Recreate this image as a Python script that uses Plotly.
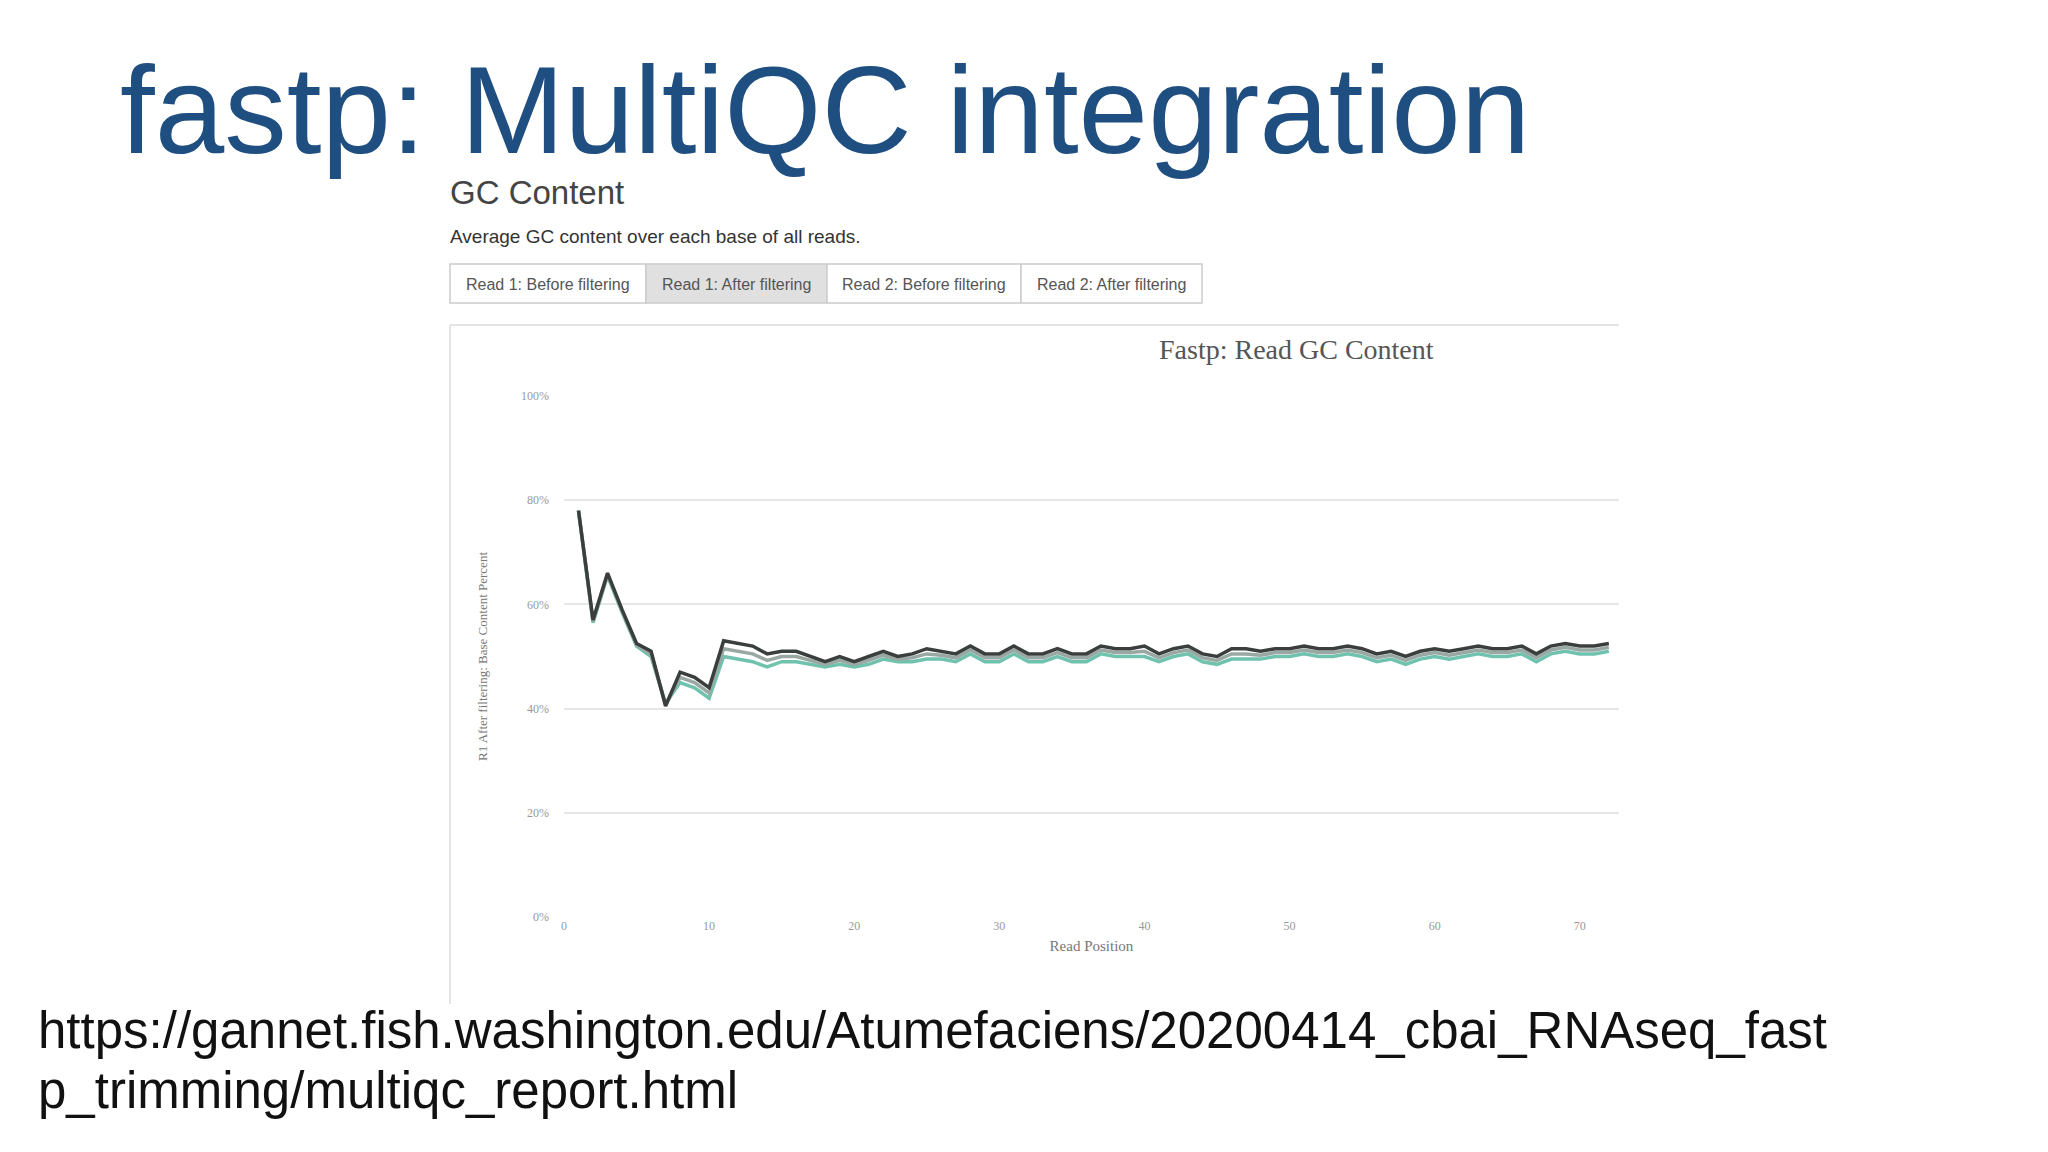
import plotly.graph_objects as go

positions = list(range(1, 73))
dark = [78, 57, 66, 59, 52.5, 51, 40.5, 47, 46, 44, 53, 52.5, 52, 50.5, 51, 51, 50, 49, 50, 49,
        50, 51, 50, 50.5, 51.5, 51, 50.5, 52, 50.5, 50.5, 52, 50.5, 50.5, 51.5, 50.5, 50.5, 52, 51.5, 51.5, 52,
        50.5, 51.5, 52, 50.5, 50, 51.5, 51.5, 51, 51.5, 51.5, 52, 51.5, 51.5, 52, 51.5, 50.5, 51, 50, 51, 51.5,
        51, 51.5, 52, 51.5, 51.5, 52, 50.5, 52, 52.5, 52, 52, 52.5]
teal = [78, 56.5, 65.5, 58.5, 52, 50, 41, 45, 44, 42, 50, 49.5, 49, 48, 49, 49, 48.5, 48, 48.5, 48,
        48.5, 49.5, 49, 49, 49.5, 49.5, 49, 50.5, 49, 49, 50.5, 49, 49, 50, 49, 49, 50.5, 50, 50, 50,
        49, 50, 50.5, 49, 48.5, 49.5, 49.5, 49.5, 50, 50, 50.5, 50, 50, 50.5, 50, 49, 49.5, 48.5, 49.5, 50,
        49.5, 50, 50.5, 50, 50, 50.5, 49, 50.5, 51, 50.5, 50.5, 51]
mid = [(a + b) / 2 for a, b in zip(dark, teal)]
yticks = [0, 20, 40, 60, 80, 100]
xticks = [0, 10, 20, 30, 40, 50, 60, 70]
tabs = ["Read 1: Before filtering", "Read 1: After filtering", "Read 2: Before filtering", "Read 2: After filtering"]

fig = go.Figure()
fig.add_trace(go.Scatter(x=positions, y=teal, mode="lines", line=dict(color="#6fc2ad", width=3.5)))
fig.add_trace(go.Scatter(x=positions, y=mid, mode="lines", line=dict(color="#9aa8a4", width=3.5)))
fig.add_trace(go.Scatter(x=positions, y=dark, mode="lines", line=dict(color="#3a3f3e", width=3.5)))

W, H = 2048, 1152
DX, DY = -8, -9
x0, x1, y0, y1 = 564 + DX, 1619 + DX, 397 + DY, 918 + DY
fig.update_layout(
    width=W, height=H, showlegend=False, paper_bgcolor="white", plot_bgcolor="white",
    margin=dict(l=x0, r=W - x1, t=y0, b=H - y1),
    xaxis=dict(range=[0, 72.7], tickvals=xticks, showgrid=False, zeroline=False, showline=False,
               tickfont=dict(size=12, color="#999", family="Liberation Serif"),
               title=dict(text="Read Position", font=dict(size=15, color="#777", family="Liberation Serif"), standoff=8)),
    yaxis=dict(range=[0, 100], tickvals=yticks, ticktext=[f"{v}%" for v in yticks], gridcolor="#e6e6e6", gridwidth=2,
               zeroline=False, showline=False, ticklabelstandoff=14,
               tickfont=dict(size=12, color="#999", family="Liberation Serif"),
               title=dict(text="R1 After filtering: Base Content Percent", font=dict(size=13, color="#777", family="Liberation Serif"), standoff=30)),
)
def px(x, y):
    x += DX; y += DY
    return dict(xref="paper", yref="paper", x=(x - x0) / (x1 - x0), y=(y1 - y) / (y1 - y0))

shapes = []
def rect(xa, ya, xb, yb, fill, line="#dddddd"):
    a = px(xa, ya); b = px(xb, yb)
    shapes.append(dict(type="rect", xref="paper", yref="paper", x0=a["x"], y0=a["y"], x1=b["x"], y1=b["y"],
                       fillcolor=fill, line=dict(color=line, width=1.5)))
def line(xa, ya, xb, yb):
    a = px(xa, ya); b = px(xb, yb)
    shapes.append(dict(type="line", xref="paper", yref="paper", x0=a["x"], y0=a["y"], x1=b["x"], y1=b["y"],
                       line=dict(color="#e4e4e4", width=2)))
line(450, 326, 1619, 326)
line(450, 326, 450, 1005)
bx = [450, 646, 827, 1021, 1202]
ann = []
for i, t in enumerate(tabs):
    rect(bx[i], 265, bx[i + 1], 304, "#e0e0e0" if i == 1 else "white", "#cccccc")
    p = px((bx[i] + bx[i + 1]) / 2, 285)
    ann.append(dict(text=t, **p, xanchor="center", yanchor="middle", showarrow=False,
                    font=dict(size=16, color="#555", family="Liberation Sans")))

def text(t, x, y, size, color, family="Liberation Sans", xanchor="left"):
    ann.append(dict(text=t, **px(x, y), xanchor=xanchor, yanchor="middle", showarrow=False,
                    font=dict(size=size, color=color, family=family)))
text("fastp: MultiQC integration", 118, 110, 125, "#1f4e80")
text("GC Content", 448, 193, 33, "#444")
text("Average GC content over each base of all reads.", 448, 238, 19, "#333")
text("Fastp: Read GC Content", 1296, 350, 28, "#555", "Liberation Serif", "center")
text("https://gannet.fish.washington.edu/Atumefaciens/20200414_cbai_RNAseq_fast", 36, 1031, 51, "#111")
text("p_trimming/multiqc_report.html", 36, 1091, 51, "#111")
fig.update_layout(shapes=shapes, annotations=ann)
fig.write_html("out.html")
